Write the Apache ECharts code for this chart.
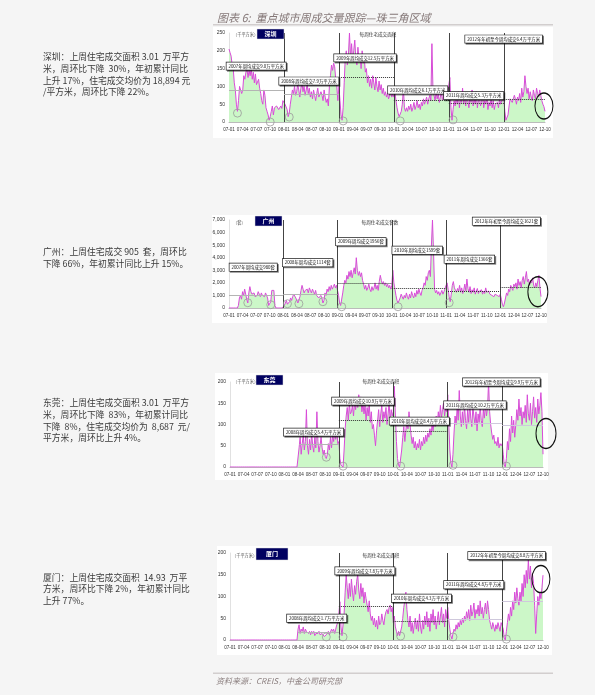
<!DOCTYPE html>
<html><head><meta charset="utf-8">
<script src="https://cdn.jsdelivr.net/npm/echarts/dist/echarts.min.js"></script>
<style>html,body{margin:0;padding:0;background:#f5f5f5;}#c{width:595px;height:695px;}</style>
</head><body><div id="c"></div>
<script>
// ---------- tick labels ----------
const quarterLabels = ['07-01','07-04','07-07','07-10','08-01','08-04','08-07','08-10','09-01','09-04','09-07','09-10','10-01','10-04','10-07','10-10','11-01','11-04','11-07','11-10','12-01','12-04','12-07','12-10'];
const weekCategories = []; for (let i = 0; i < 300; i++) weekCategories.push(String(i));

// ---------- 深圳 weekly area (千平方米) ----------
const sz2007 = [205,195,185,160,150,110,90,50,30,60,100,95,80,90,130,120,140,150,125,145,130,150,120,140,110,135,105,100,120,95,80,60,50,90,75,40,30,20,5,15,30,45,20,40,35,45,40,35,40,45,38,60];
const sz2008 = [60,50,55,35,15,25,50,70,90,80,100,75,85,105,90,70,95,110,85,100,75,90,105,80,95,70,85,65,90,75,60,80,95,70,65,85,75,60,90,70,55,65,45,100,130,160,145,165,155,120,100,60];
const sz2009 = [100,60,20,5,40,110,180,200,160,190,250,180,220,170,200,230,180,160,210,175,190,150,200,165,180,140,150,110,130,100,120,95,130,110,90,125,100,85,115,90,105,80,95,75,85,70,80,65,75,85,70,80];
const sz2010 = [70,85,60,40,25,15,10,30,50,95,40,30,40,30,45,35,50,30,40,55,35,45,60,40,50,35,55,45,65,50,55,70,50,65,75,60,220,90,75,60,85,65,80,55,70,85,60,75,65,80,70,85];
const sz2011 = [80,125,40,5,35,60,45,70,50,85,40,65,55,95,50,70,45,80,60,40,75,55,90,45,65,50,85,40,60,70,45,55,80,40,60,50,75,35,55,45,65,40,60,35,50,45,55,40,65,50,60,55];
const sz2012 = [65,30,5,0,20,45,65,70,55,60,75,65,50,70,60,80,55,95,70,85,130,100,80,95,65,85,70,60,90,75,65,95,80,70,90,75,60,50,43,30];

// ---------- 广州 weekly units (套) ----------
const gz2007 = [0,0,0,0,0,0,0,0,0,200,800,1000,700,1300,1000,1500,1100,700,400,1200,1700,1300,1100,1000,1200,900,800,1000,1300,1100,900,1200,1000,1100,900,1200,1000,800,200,150,500,1400,1300,1400,200,0,0,0,0,0,0,0];
const gz2008 = [100,200,400,600,300,200,500,800,600,900,1100,1200,800,600,400,300,900,1400,1800,1500,1200,1400,1300,1500,1200,1600,1400,1200,1500,1300,1100,1400,1000,900,800,700,1000,800,400,600,1200,1000,1500,1300,1700,1400,1800,1500,1700,1900,1600,1800];
const gz2009 = [1700,1000,400,200,300,1200,1800,2200,2000,2600,2300,2900,2500,3000,2400,2800,3200,2700,4000,3000,2600,2900,2500,2800,2200,1900,1500,1800,1400,1600,1900,1500,1300,1700,1400,1600,2000,1500,1800,1400,2100,2600,2200,1900,2100,1800,2000,1700,1900,1600,1800,1500];
const gz2010 = [1800,3000,2000,1500,1000,600,400,300,800,1100,900,700,1000,800,1200,900,700,1100,800,1300,1000,800,1200,900,1400,1100,1500,1200,1000,1400,1600,2000,1800,2500,2200,2800,3000,2500,5000,7000,4500,1500,1200,1400,1100,1300,1000,1200,1400,1100,1300,1200];
const gz2011 = [1800,2000,1500,900,500,1100,1800,2100,1600,1700,1250,1550,1350,1800,1250,1600,1150,1450,1900,1350,2300,1550,1250,1700,1150,1450,1250,1600,1100,1350,1550,1150,1350,1250,1450,1100,1350,1150,1600,1250,1150,1350,1100,1250,1000,1150,900,1100,1250,1000,1150,900];
const gz2012 = [1100,700,300,100,400,800,1200,1000,1500,1300,1800,1600,1400,1900,1700,2000,1500,2300,1800,2100,1600,2200,2500,1900,2400,2900,2100,2300,1800,2200,2000,2400,1800,1600,2000,1700,2200,2600,1600,905];

// ---------- 东莞 weekly area (千平方米) ----------
const dg2007 = [0,0,0,0,0,0,0,0,0,0,0,0,0,0,0,0,0,0,0,0,0,0,0,0,0,0,0,0,0,0,0,0,0,0,0,0,0,0,0,0,0,0,0,0,0,0,0,0,0,0,0,0];
const dg2008 = [0,0,0,0,0,0,0,0,0,0,0,0,0,0,45,70,30,55,75,40,60,135,50,30,65,40,80,50,35,70,45,130,60,35,50,70,45,30,40,25,20,30,55,40,70,45,75,60,85,65,90,55];
const dg2009 = [60,20,5,5,0,40,90,120,140,110,150,125,130,145,120,155,135,160,140,170,150,165,130,150,125,145,110,140,120,150,105,130,90,100,75,50,85,110,135,95,125,145,105,130,115,140,100,125,150,110,135,120];
const dg2010 = [130,190,120,60,20,5,0,0,40,70,95,60,85,110,90,130,100,75,55,70,45,60,40,55,45,65,40,60,50,70,55,75,60,80,70,90,75,100,85,110,95,120,100,130,110,145,115,135,150,120,140,130];
const dg2011 = [170,100,40,10,0,30,80,120,100,140,110,180,120,95,130,100,145,110,90,135,105,150,115,95,140,120,100,130,85,125,105,145,110,95,135,115,150,120,140,200,130,100,80,65,75,55,60,50,70,45,55,50];
const dg2012 = [55,30,5,0,20,60,40,90,60,120,80,110,70,100,135,110,160,120,140,100,130,115,145,105,170,125,110,150,100,130,165,115,140,105,160,125,145,175,130,30];

// ---------- 厦门 weekly area (千平方米) ----------
const xm2007 = [0,0,0,0,0,0,0,0,0,0,0,0,0,0,0,0,0,0,0,0,0,0,0,0,0,0,0,0,0,0,0,0,0,0,0,0,0,0,0,0,0,0,0,0,0,0,0,0,0,0,0,0];
const xm2008 = [0,0,0,0,0,0,0,0,0,0,0,0,0,25,35,15,25,20,30,15,25,20,20,15,20,12,20,15,20,10,15,12,15,20,12,8,15,12,8,5,12,15,20,12,15,25,20,25,15,25,35,40];
const xm2009 = [60,88,30,10,8,60,110,150,120,95,130,100,140,110,90,125,105,135,150,115,95,130,100,120,85,110,95,80,65,90,60,45,55,35,50,30,45,25,55,35,40,60,45,35,55,65,70,60,75,80,65,75];
const xm2010 = [40,55,30,20,10,20,10,8,30,50,75,90,110,70,45,30,55,20,40,15,35,50,25,45,20,60,30,15,45,25,55,35,65,30,50,20,60,40,70,35,55,25,45,65,35,55,75,40,60,30,70,50];
const xm2011 = [75,45,25,10,2,15,25,20,35,25,40,30,45,35,50,40,55,45,65,50,70,45,80,55,65,85,50,70,60,80,55,90,60,75,50,70,85,60,90,70,45,35,25,40,30,20,35,25,40,30,20,40];
const xm2012 = [40,25,5,0,20,40,60,45,75,55,90,70,110,85,120,95,80,110,90,130,100,150,120,160,130,185,140,170,120,150,130,80,15,60,100,80,110,95,120,149];

// ---------- yearly averages ----------
const szAvg = [90,79,125,61,53,64];
const gzAvg = [980,1114,1956,1599,1366,1621];
const dgAvg = [null,54,109,84,102,99];
const xmAvg = [null,17,78,43,48,88];

const szNotes = ['2007年周均成交9.0万平方米','2008年周均成交7.9万平方米','2009年周均成交12.5万平方米','2010年周均成交6.1万平方米','2011年周均成交5.3万平方米','2012年年初至今周均成交6.4万平方米'];
const gzNotes = ['2007年周均成交980套','2008年周均成交1114套','2009年周均成交1956套','2010年周均成交1599套','2011年周均成交1366套','2012年年初至今周均成交1621套'];
const dgNotes = [null,'2008年周均成交5.4万平方米','2009年周均成交10.9万平方米','2010年周均成交8.4万平方米','2011年周均成交10.2万平方米','2012年年初至今周均成交9.9万平方米'];
const xmNotes = [null,'2008年周均成交1.7万平方米','2009年周均成交7.8万平方米','2010年周均成交4.3万平方米','2011年周均成交4.8万平方米','2012年年初至今周均成交8.8万平方米'];

const yearStarts = [0,52,104,156,208,260];
const lastWeek = 299;

// ---------- styles ----------
const FONT = '"Noto Sans CJK SC"';
const dotted = {type:'dotted', color:'#333', width:1};
const greyLine = {type:'solid', color:'#b4b4b4', width:1};
const lightLine = {type:'solid', color:'#cfc8dc', width:1};

const panels = [
  {name:'深圳', unit:'（千平方米）', title:'每周住宅成交面积',
   data:[].concat(sz2007,sz2008,sz2009,sz2010,sz2011,sz2012), avg:szAvg, notes:szNotes,
   avgStyles:[greyLine,greyLine,dotted,dotted,dotted,dotted], avgStart:[0,52,104,156,208,260],
   grid:{left:229, top:33, width:316, height:89}, max:250, interval:50,
   yearLines:[52,104,156,208,260],
   circles:[[8,25],[39,0],[57,14],[108,3],[162,3],[212,6]],
   ellipse:{coord:[298,45], size:[18,26], offset:[0,0]},
   notePos:[[0,157,-3],[47,115,0],[99,180,0],[150,90,0],[203,74,0],[223,233,0]],
   panel:[213,27,340,111], box:[257,29,27,10], unitPos:[233,34], titlePos:[378,34]},
  {name:'广州', unit:'（套）', title:'每周住宅成交套数',
   data:[].concat(gz2007,gz2008,gz2009,gz2010,gz2011,gz2012), avg:gzAvg, notes:gzNotes,
   avgStyles:[greyLine,greyLine,dotted,dotted,dotted,dotted], avgStart:[0,52,104,156,208,260],
   grid:{left:229, top:220, width:312, height:88}, max:7000, interval:1000,
   yearLines:[52,104,156,208,260],
   circles:[[18,420],[40,260],[56,340],[67,340],[90,500],[108,100],[162,100],[211,420]],
   ellipse:{coord:[296,1300], size:[20,30], offset:[0,0]},
   notePos:[[0,3245,0],[51,3603,0],[102,5274,0],[156,4598,0],[206,3882,0],[233,6905,0]],
   panel:[212,215,335,108], box:[255,216,27,10], unitPos:[233,222], titlePos:[380,222]},
  {name:'东莞', unit:'（千平方米）', title:'每周住宅成交面积',
   data:[].concat(dg2007,dg2008,dg2009,dg2010,dg2011,dg2012), avg:dgAvg, notes:dgNotes,
   avgStyles:[null,greyLine,dotted,dotted,lightLine,lightLine], avgStart:[0,66,104,156,208,260],
   grid:{left:230, top:382, width:313, height:85}, max:200, interval:50,
   yearLines:[104,156,208,260],
   circles:[[92,23],[108,2],[163,2],[213,4],[264,2]],
   ellipse:{coord:[299,79], size:[20,30], offset:[3,0]},
   notePos:[null,[51,82,0],[97,155,0],[152,108,0],[204,146,0],[222,200,0]],
   panel:[215,373,333,107], box:[256,375,27,10], unitPos:[233,381], titlePos:[381,381]},
  {name:'厦门', unit:'（千平方米）', title:'每周住宅成交面积',
   data:[].concat(xm2007,xm2008,xm2009,xm2010,xm2011,xm2012), avg:xmAvg, notes:xmNotes,
   avgStyles:[null,greyLine,dotted,dotted,lightLine,lightLine], avgStart:[0,65,104,156,208,260],
   grid:{left:230, top:553, width:313, height:87}, max:200, interval:50,
   yearLines:[104,156,208,260],
   circles:[[92,7],[108,7],[163,9],[213,7],[264,2]],
   ellipse:{coord:[297,140], size:[18,27], offset:[0,0]},
   notePos:[null,[54,50,0],[100,159,0],[154,96,0],[204,127,0],[227,194,0]],
   panel:[217,546,335,109], box:[256,548,32,12], unitPos:[232,555], titlePos:[381,555]}
];

const leftTexts = [
  {text:'深圳：上周住宅成交面积 3.01  万平方\n米，周环比下降  30%，年初累计同比\n上升 17%，住宅成交均价为 18,894 元\n/平方米，周环比下降 22%。', top:50.8},
  {text:'广州：上周住宅成交 905  套，周环比\n下降 66%，年初累计同比上升 15%。', top:245.8},
  {text:'东莞：上周住宅成交面积 3.01  万平方\n米，周环比下降  83%，年初累计同比\n下降  8%，住宅成交均价为  8,687  元/\n平方米，周环比上升 4%。', top:396.8},
  {text:'厦门：上周住宅成交面积  14.93  万平\n方米，周环比下降 2%，年初累计同比\n上升 77%。', top:571.4}
];

function fmtThousands(v){ return v === 0 ? '0' : v.toLocaleString('en-US'); }

const grids = [], xAxes = [], yAxes = [], series = [], graphics = [];

graphics.push({type:'text', x:217, y:18, z:100, style:{text:'图表 6:  重点城市周成交量跟踪—珠三角区域', font:'italic 11px ' + FONT, fill:'#857878', verticalAlign:'middle', textVerticalAlign:'middle'}});
graphics.push({type:'rect', z:1, shape:{x:213, y:24, width:340, height:1.5}, style:{fill:'#d2cece'}});
graphics.push({type:'rect', z:1, shape:{x:213, y:672.5, width:340, height:1.5}, style:{fill:'#d2cece'}});
graphics.push({type:'text', x:216, y:681, z:100, style:{text:'资料来源：CREIS，中金公司研究部', font:'italic 8px ' + FONT, fill:'#8a7e7e', verticalAlign:'middle', textVerticalAlign:'middle'}});

leftTexts.forEach(t => {
  graphics.push({type:'text', x:43, y:t.top, z:100, style:{text:t.text, font:'8.8px ' + FONT, fill:'#3a3a3a', lineHeight:11.8, verticalAlign:'top', textVerticalAlign:'top'}});
});

panels.forEach((p, k) => {
  grids.push({left:p.grid.left, top:p.grid.top, width:p.grid.width, height:p.grid.height, containLabel:false, outerBoundsMode:'none'});
  xAxes.push({type:'category', gridIndex:k, data:weekCategories, boundaryGap:false,
    axisLine:{show:true, lineStyle:{color:'#aaaaaa', width:0.8}}, axisTick:{show:false}, splitLine:{show:false},
    axisLabel:{interval:(i)=> i % 13 === 0, formatter:(v, i)=> quarterLabels[i / 13] || '', fontSize:4.6, color:'#333', margin:5, fontFamily:'Liberation Sans'}});
  yAxes.push({type:'value', gridIndex:k, min:0, max:p.max, interval:p.interval,
    axisLine:{show:true, lineStyle:{color:'#cccccc', width:0.6}}, axisTick:{show:false}, splitLine:{show:false},
    axisLabel:{fontSize:5, color:'#333', margin:4, fontFamily:'Liberation Sans', formatter: p.max > 1000 ? fmtThousands : (v)=> String(v)}});

  const ml = [];
  p.yearLines.forEach(x => ml.push({xAxis:x, lineStyle:{color:'#444', width:1, type:'solid'}}));
  p.avg.forEach((v, y) => {
    if (v == null) return;
    const s = p.avgStart[y];
    const e = y < 5 ? yearStarts[y + 1] : lastWeek;
    ml.push([{coord:[s, v], lineStyle:p.avgStyles[y]}, {coord:[e, v]}]);
  });

  const mp = [];
  p.circles.forEach(c => mp.push({coord:c, symbol:'circle', symbolSize:8,
    itemStyle:{color:'rgba(0,0,0,0)', borderColor:'#9a9a9a', borderWidth:0.8}, label:{show:false}}));
  mp.push({coord:p.ellipse.coord, symbol:'circle', symbolSize:p.ellipse.size, symbolOffset:p.ellipse.offset,
    itemStyle:{color:'rgba(0,0,0,0)', borderColor:'#111', borderWidth:1.2}, label:{show:false}});
  p.notes.forEach((txt, y) => {
    if (!txt) return;
    const np = p.notePos[y];
    mp.push({coord:[np[0], np[1]], symbol:'rect', symbolSize:1, itemStyle:{color:'rgba(0,0,0,0)'},
      label:{show:true, position:'right', distance:0, offset:[np[2], 0], formatter:txt,
        fontSize:4.4, fontFamily:FONT, color:'#111', backgroundColor:'#fff', borderColor:'#222', borderWidth:0.7,
        padding:[1.6,2,1.4,2], shadowColor:'rgba(0,0,0,0.45)', shadowOffsetX:1.2, shadowOffsetY:1.2, shadowBlur:0}});
  });

  series.push({type:'line', xAxisIndex:k, yAxisIndex:k, data:p.data, showSymbol:false, symbol:'none',
    lineStyle:{color:'#d84bd8', width:1}, areaStyle:{color:'#ccf7c8', opacity:1}, silent:true, z:2,
    markLine:{silent:true, symbol:['none','none'], label:{show:false}, animation:false, z:4, data:ml},
    markPoint:{silent:true, animation:false, z:10, data:mp}});

  graphics.push({type:'rect', z:0, shape:{x:p.panel[0], y:p.panel[1], width:p.panel[2], height:p.panel[3]}, style:{fill:'#ffffff'}});
  graphics.push({type:'rect', z:100, shape:{x:p.box[0], y:p.box[1], width:p.box[2], height:p.box[3]}, style:{fill:'#000060', stroke:'#dddddd', lineWidth:0.5}});
  graphics.push({type:'text', z:101, x:p.box[0] + p.box[2] / 2, y:p.box[1] + p.box[3] / 2, style:{text:p.name, font:'bold 6px ' + FONT, fill:'#fff', align:'center', textAlign:'center', verticalAlign:'middle', textVerticalAlign:'middle'}});
  graphics.push({type:'text', z:100, x:p.unitPos[0], y:p.unitPos[1], style:{text:p.unit, font:'4.2px ' + FONT, fill:'#555', verticalAlign:'middle', textVerticalAlign:'middle'}});
  graphics.push({type:'text', z:100, x:p.titlePos[0], y:p.titlePos[1], style:{text:p.title, font:'4.6px ' + FONT, fill:'#333', align:'center', textAlign:'center', verticalAlign:'middle', textVerticalAlign:'middle'}});
});

const chart = echarts.init(document.getElementById('c'), null, {renderer:'canvas', width:595, height:695});
chart.setOption({backgroundColor:'#f5f5f5', animation:false, grid:grids, xAxis:xAxes, yAxis:yAxes, series:series, graphic:graphics});
</script>
</body></html>
